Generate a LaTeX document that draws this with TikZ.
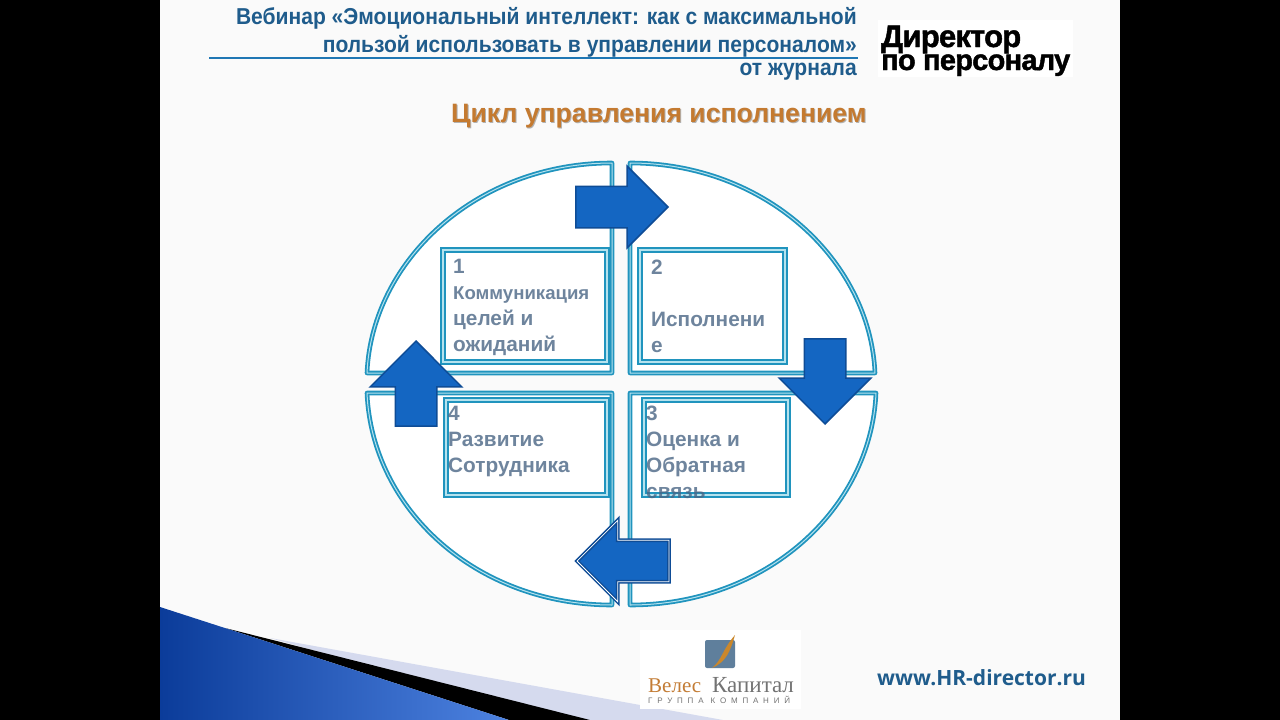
\documentclass[tikz,border=0pt]{standalone}
\usepackage{fontspec}
\setmainfont{Liberation Sans}
\newfontfamily\headfont[FakeStretch=0.915]{Liberation Sans}
\newfontfamily\logofont[LetterSpace=-2.5,BoldFeatures={FakeBold=1.5}]{Liberation Sans}
\newfontfamily\velesfont{Liberation Serif}
\newfontfamily\groupfont[LetterSpace=60]{Liberation Sans}
\newfontfamily\urlfont{Open Sans}
\usetikzlibrary{shapes.arrows}
\definecolor{slidebg}{HTML}{FAFAFA}
\definecolor{quadline}{HTML}{2094BE}
\definecolor{quadinner}{HTML}{B5E2EE}
\definecolor{boxtext}{HTML}{4A6685}
\definecolor{arrowfill}{HTML}{1466C2}
\definecolor{arrowline}{HTML}{0E4C96}
\definecolor{headblue}{HTML}{1F5C8C}
\definecolor{ruleblue}{HTML}{1F77B4}
\definecolor{cycletitle}{HTML}{C47A30}
\definecolor{wedgelight}{HTML}{D5DAEE}
\definecolor{wedgedark}{HTML}{0B3C9A}
\definecolor{wedgebright}{HTML}{4D82E0}
\definecolor{iconslate}{HTML}{5F7F9C}
\tikzset{
  quad/.style={draw=quadline,double=quadinner,double distance=1pt,line width=1.8pt,line join=round,fill=white},
  stagebox/.style={rectangle,draw=quadline,double=quadinner,double distance=1.2pt,line width=2pt,inner sep=0pt,anchor=north west},
  stagetext/.style={anchor=north west,align=left,inner sep=0pt,text=boxtext,text opacity=.8,font=\bfseries\fontsize{20.8}{26}\selectfont},
  blockarrow/.style={single arrow,draw=arrowline,line width=1.5pt,fill=arrowfill,inner sep=0pt,text height=40pt,text depth=0pt,anchor=tip,single arrow tip angle=90},
  hflow/.style={blockarrow,minimum height=92pt,single arrow head extend=20pt},
  vflow/.style={blockarrow,minimum height=85pt,single arrow head extend=25pt},
  headline/.style={anchor=base east,inner sep=0pt,text=headblue,font=\headfont\bfseries\fontsize{23}{24}\selectfont}
}
\begin{document}
\begin{tikzpicture}[x=1pt,y=-1pt]
\useasboundingbox (0,0) rectangle (1280,720);
\fill[black] (0,0) rectangle (1280,720);
\fill[slidebg] (160,0) rectangle (1120,720);
\fill[wedgelight] (270,638) -- (723,720) -- (560,720) -- cycle;
\fill[black] (225,628) -- (590,720) -- (509,720) -- cycle;
\shade[left color=wedgedark,right color=wedgebright] (160,607) -- (509,720) -- (160,720) -- cycle;

\draw[color=white,fill=white] (878,20) rectangle (1072,76);
\draw[color=white,fill=white] (640,630) rectangle (800,708);

\node[headline] (line1) at (857,24) {Вебинар «Эмоциональный интеллект: как с максимальной};
\node[headline] (line2) at (857,52) {пользой использовать в управлении персоналом»};
\node[headline] (line3) at (857,75) {от журнала};
\draw[color=ruleblue,line width=2.4pt] (209,58) -- (858,58);
\node[anchor=base west,inner sep=0pt,font=\logofont\bfseries\fontsize{31}{32}\selectfont] (logo1) at (881,47) {Директор};
\node[anchor=base west,inner sep=0pt,font=\logofont\bfseries\fontsize{29}{30}\selectfont] (logo2) at (881,70) {по персоналу};
\node[anchor=base west,inner sep=0pt,text=black!30,font=\bfseries\fontsize{26.6}{30}\selectfont] (shadow) at (452,123) {Цикл управления исполнением};
\node[anchor=base west,inner sep=0pt,text=cycletitle,font=\bfseries\fontsize{26.6}{30}\selectfont] (title) at (451,122) {Цикл управления исполнением};

\draw[quad] (367,373) .. controls (372,260) and (477,163) .. (612,163) -- (612,373) -- cycle;
\draw[quad] (630,163) .. controls (765,163) and (870,260) .. (875,373) -- (630,373) -- cycle;
\draw[quad] (367,393) .. controls (372,510) and (477,605) .. (612,605) -- (612,393) -- cycle;
\draw[quad] (876,393) .. controls (871,510) and (765,605) .. (630,605) -- (630,393) -- cycle;

\node[stagebox,minimum width=164pt,minimum height=112pt] (box1) at (442,249) {};
\node[stagebox,minimum width=145pt,minimum height=112pt] (box2) at (639,249) {};
\node[stagebox,minimum width=161pt,minimum height=95pt] (box4) at (445,399) {};
\node[stagebox,minimum width=144pt,minimum height=95pt] (box3) at (643,399) {};

\node[stagetext] (text1) at (453,259) {1\\{\fontsize{18.6}{26}\selectfont Коммуникация}\\целей и\\ожиданий};
\node[stagetext] (text2) at (651,260) {2\\\\Исполнени\\е};
\node[stagetext] (text3) at (646,406) {3\\Оценка и\\Обратная\\связь};
\node[stagetext] (text4) at (448,406) {4\\Развитие\\Сотрудника};

\node[hflow] (next1) at (669,207) {};
\node[vflow,rotate=-90] (next2) at (825,425) {};
\node[hflow,rotate=180,double=white,double distance=.8pt] (next3) at (576,561) {};
\node[vflow,rotate=90] (next4) at (416,340) {};

\fill[color=iconslate,rounded corners=2pt] (705,640) rectangle (735,668);
\fill[color=cycletitle!90!yellow] (712,668) .. controls (722,660) and (722,650) .. (735,635) .. controls (730,652) and (726,662) .. (712,668) -- cycle;
\node[anchor=base west,inner sep=0pt,text=cycletitle!70!brown,font=\velesfont\fontsize{21}{24}\selectfont] (veles) at (648,692) {Велес};
\node[anchor=base west,inner sep=0pt,text=black!55,font=\velesfont\fontsize{23}{24}\selectfont] (kapital) at (712,692) {Капитал};
\node[anchor=base west,inner sep=0pt,text=black!55,font=\groupfont\fontsize{8}{9}\selectfont] (group) at (648,703) {ГРУППА КОМПАНИЙ};
\node[anchor=base west,inner sep=0pt,text=headblue,font=\urlfont\bfseries\fontsize{21}{24}\selectfont] (site) at (877,685) {www.HR-director.ru};
\end{tikzpicture}
\end{document}
